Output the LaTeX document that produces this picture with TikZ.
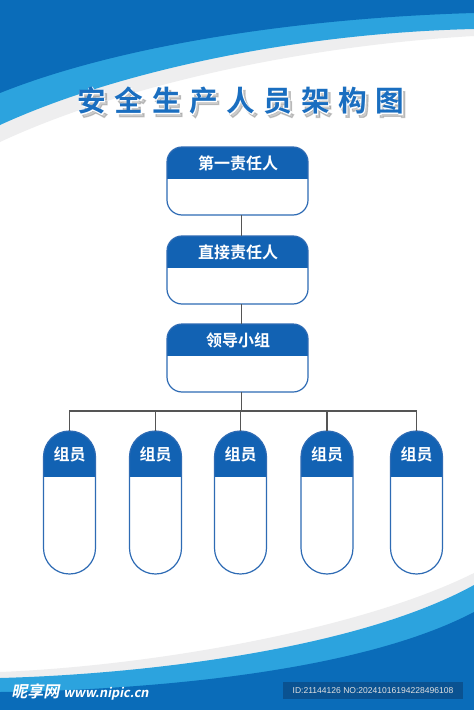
\documentclass[tikz,border=0pt]{standalone}
\usepackage{fontspec}
\newfontfamily\cjkb{Noto Sans CJK SC Bold}
\newfontfamily\cjkt[LetterSpace=30]{Noto Sans CJK SC Bold}
\newfontfamily\cjko[LetterSpace=30,FakeBold=4]{Noto Sans CJK SC Bold}
\newfontfamily\wmfont[FakeSlant=0.2]{Noto Sans CJK SC Bold}
\newfontfamily\idfont{Liberation Sans}
\usetikzlibrary{calc}
\definecolor{darkblue}{HTML}{0A6CB9}
\definecolor{lightblue}{HTML}{2CA3DE}
\definecolor{band}{HTML}{EEEEEF}
\definecolor{hdr}{HTML}{1262B3}
\definecolor{edge}{HTML}{2E6BB4}
\definecolor{titleblue}{HTML}{1A6EC0}
\definecolor{conn}{HTML}{555555}
\definecolor{idbox}{HTML}{0B4E8A}
\begin{document}
\begin{tikzpicture}[x=0.75pt,y=-0.75pt,
  chief/.style={draw=edge,line width=0.9pt,fill=white,rectangle,rounded corners=11.25pt,
    minimum width=105.75pt,minimum height=51pt,inner sep=0pt,outer sep=0pt,
    path picture={\fill[hdr,sharp corners] (path picture bounding box.north west) rectangle ([yshift=-24pt]path picture bounding box.north east);}},
  member/.style={draw=edge,line width=0.9pt,fill=white,rectangle,rounded corners=19.4pt,
    minimum width=39pt,minimum height=107.25pt,inner sep=0pt,outer sep=0pt,
    path picture={\fill[hdr,sharp corners] (path picture bounding box.north west) rectangle ([yshift=-34.5pt]path picture bounding box.north east);}},
  hdrtext/.style={text=white,font=\cjkb\fontsize{12}{14}\selectfont,inner sep=0pt},
  link/.style={draw=conn,line width=1.1pt}]
\useasboundingbox (0,0) rectangle (474,710);
\fill[white] (0,0) rectangle (474,710);
% top decoration
\fill[band] (0,0) -- (474,0) -- (474,36) .. controls (300,46) and (120,86) .. (0,142) -- cycle;
\fill[lightblue] (0,0) -- (474,0) -- (474,29) .. controls (300,33) and (120,70) .. (0,125) -- cycle;
\fill[darkblue] (0,0) -- (474,0) -- (474,13) .. controls (300,18) and (120,45) .. (0,93) -- cycle;
% bottom decoration
\fill[band] (0,710) -- (0,672) .. controls (150,666) and (360,630) .. (474,573) -- (474,710) -- cycle;
\fill[lightblue] (0,710) -- (0,678) .. controls (150,674) and (360,648) .. (474,585) -- (474,710) -- cycle;
\fill[darkblue] (0,710) -- (0,692) .. controls (150,690) and (360,672) .. (474,612) -- (474,710) -- cycle;
% title: shadow, white outline, blue face
\node[inner sep=0pt,font=\cjko\fontsize{21.5}{26}\selectfont,text=black!45,opacity=0.45] (tshadow) at (243.5,104) {安全生产人员架构图};
\node[inner sep=0pt,font=\cjko\fontsize{21.5}{26}\selectfont,text=white] (toutline) at (241,101) {安全生产人员架构图};
\node[inner sep=0pt,font=\cjkt\fontsize{21.5}{26}\selectfont,text=titleblue] (title) at (241,101) {安全生产人员架构图};
% chief boxes
\node[chief] (b1) at (237.5,181) {};
\node[hdrtext] (t1) at (238,163.5) {第一责任人};
\node[chief] (b2) at (237.5,270) {};
\node[hdrtext] (t2) at (238,252.5) {直接责任人};
\node[chief] (b3) at (237.5,358) {};
\node[hdrtext] (t3) at (238,340.5) {领导小组};
% members
\foreach \i/\x in {1/69.5,2/155.5,3/240.5,4/327,5/416.5} {
  \node[member] (m\i) at (\x,502.5) {};
  \node[hdrtext] (mt\i) at (\x,454) {组员};
}
% connectors
\coordinate (spine) at (241.3,411);
\draw[link] (b1.south -| spine) -- (b2.north -| spine);
\draw[link] (b2.south -| spine) -- (b3.north -| spine);
\draw[link] (b3.south -| spine) -- (spine);
\draw[link] (m1.north) -- (m1.north |- spine) -- (m5.north |- spine) -- (m5.north);
\foreach \i in {2,3,4} { \draw[link] (m\i.north) -- (m\i.north |- spine); }
% watermark
\node[anchor=west,text=white,inner sep=0pt,font=\wmfont\fontsize{12}{14}\selectfont] (wm) at (11,692) {昵享网\hspace{3pt}{\fontsize{9.5}{11}\selectfont www.nipic.cn}};
\node[fill=idbox,fill opacity=0.85,text opacity=1,text=white!88!black,inner sep=0pt,minimum width=135pt,minimum height=13pt,font=\idfont\fontsize{6.4}{7}\selectfont] (id) at (373,690.5) {ID:21144126 NO:20241016194228496108};
\end{tikzpicture}
\end{document}
